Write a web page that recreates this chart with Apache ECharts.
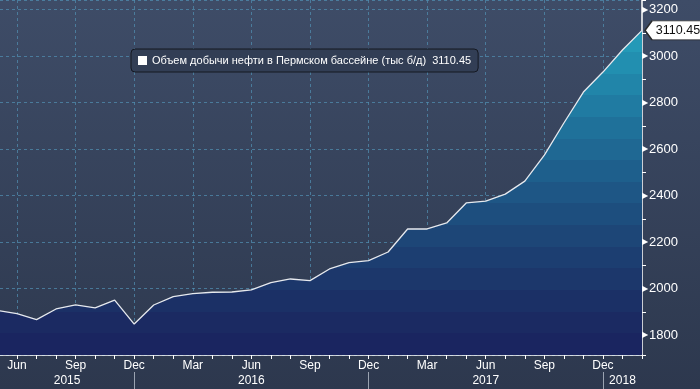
<!DOCTYPE html>
<html>
<head>
<meta charset="utf-8">
<script src="https://cdn.jsdelivr.net/npm/echarts@6/dist/echarts.min.js"></script>
<style>
html,body{margin:0;padding:0;background:#36435c;}
#chart{width:700px;height:389px;}
</style>
</head>
<body>
<div id="chart"></div>
<script>
// ---- data ----
var seriesName = 'Объем добычи нефти в Пермском бассейне (тыс б/д)';
var months = ['2015-05','2015-06','2015-07','2015-08','2015-09','2015-10','2015-11','2015-12',
  '2016-01','2016-02','2016-03','2016-04','2016-05','2016-06','2016-07','2016-08','2016-09','2016-10','2016-11','2016-12',
  '2017-01','2017-02','2017-03','2017-04','2017-05','2017-06','2017-07','2017-08','2017-09','2017-10','2017-11','2017-12',
  '2018-01','2018-02'];
var values = [1906,1892,1866,1912,1930,1917,1950,1847,
  1929,1965,1978,1984,1985,1994,2025,2041,2034,2084,2111,2120,
  2157,2256,2256,2282,2368,2376,2406,2462,2574,2712,2845,2931,
  3026,3110.45];
var monthNames = ['Jan','Feb','Mar','Apr','May','Jun','Jul','Aug','Sep','Oct','Nov','Dec'];
var quarterMonthLabels = ['Mar','Jun','Sep','Dec'];
var yearLabels = ['2015','2016','2017','2018'];
var yTickLabels = [1800,2000,2200,2400,2600,2800,3000,3200];

// ---- axis helpers ----
var baseYear = 2015, baseMonth = 2; // index 0 = Mar 2015
function monthIndex(s){ var p = s.split('-'); return (parseInt(p[0],10)-baseYear)*12 + (parseInt(p[1],10)-1) - baseMonth; }
function monthName(i){ return monthNames[((i + baseMonth) % 12 + 12) % 12]; }
var xMax = monthIndex(months[months.length-1]);
var xMin = 2.13; // visible start (a little after May 2015)
var seriesData = months.map(function(m,i){ return [monthIndex(m), values[i]]; });
var monthTicks = [], quarterTicks = [];
for (var i = Math.ceil(xMin); i <= xMax; i++){
  monthTicks.push(i);
  if (quarterMonthLabels.indexOf(monthName(i)) >= 0) quarterTicks.push(i);
}
// year separators at December of each year
var yearSeps = [monthIndex('2015-12'), monthIndex('2016-12'), monthIndex('2017-12')];
var bounds = [xMin].concat(yearSeps).concat([xMax]);
var yearCenters = yearLabels.map(function(y,i){ return (bounds[i]+bounds[i+1])/2; });

// stepped gradient for the area
var bandColors = ['#2499b7','#228fb0','#2185a9','#207ba2','#1f719a','#1f6893','#1e5f8c','#1e5685','#1d4e7e','#1d4677','#1c3e71','#1c376b','#1b3066','#1b2a62','#1a2560'];
var stops = [];
bandColors.forEach(function(c,k){
  stops.push({offset:k/bandColors.length, color:c});
  stops.push({offset:(k+1)/bandColors.length, color:c});
});

var font = 'Liberation Sans, Arial, sans-serif';
var gridColor = 'rgba(80,140,175,0.75)';
var chart = echarts.init(document.getElementById('chart'));
var lastVal = values[values.length-1];
chart.setOption({
  backgroundColor: new echarts.graphic.LinearGradient(0,0,0,1,[{offset:0,color:'#3e4c67'},{offset:1,color:'#2d384e'}]),
  animation:false,
  grid:{left:0, right:58, top:0, bottom:34},
  legend:{
    left:131, top:49, padding:[6,7,6,7],
    icon:'rect', itemWidth:9, itemHeight:9, itemGap:5,
    backgroundColor:'#323e55', borderColor:'#141821', borderWidth:1, borderRadius:4,
    itemStyle:{color:'#ffffff', borderWidth:0},
    textStyle:{color:'#ffffff', fontSize:11, fontFamily:font},
    formatter:function(n){ return n + '  ' + lastVal.toFixed(2); },
    data:[seriesName]
  },
  xAxis:[
    {type:'value', min:xMin, max:xMax, position:'bottom',
     axisLine:{show:true, lineStyle:{color:'#ffffff', width:1.5}},
     axisTick:{show:true, customValues:monthTicks, length:4, lineStyle:{color:'#ffffff', width:1}},
     axisLabel:{show:true, customValues:quarterTicks, color:'#ffffff', fontSize:12, fontFamily:font, margin:5,
       formatter:function(v){ return monthName(Math.round(v)); }},
     splitLine:{show:false}},
    {type:'value', min:xMin, max:xMax, position:'bottom',
     axisLine:{show:false}, axisTick:{show:false, customValues:quarterTicks}, axisLabel:{show:false, customValues:quarterTicks},
     splitLine:{show:true, lineStyle:{color:gridColor, type:[3,3], width:1}}},
    {type:'value', min:xMin, max:xMax, position:'bottom', offset:17,
     axisLine:{show:false},
     axisTick:{show:true, customValues:yearSeps, length:17, lineStyle:{color:'#9aa3b1', width:1}},
     axisLabel:{show:true, customValues:yearCenters, color:'#ffffff', fontSize:12, fontFamily:font, margin:3,
       formatter:function(v){ for (var i=0;i<yearCenters.length;i++){ if (Math.abs(yearCenters[i]-v)<1e-6) return yearLabels[i]; } return ''; }},
     splitLine:{show:false}}
  ],
  yAxis:{
    type:'value', position:'right', min:1714, max:3241, splitNumber:8,
    axisLine:{show:true, lineStyle:{color:'#ffffff', width:1.5}},
    axisTick:{show:true, length:4, lineStyle:{color:'#ffffff', width:1}},
    minorTick:{show:true, splitNumber:2, length:4, lineStyle:{color:'#ffffff', width:1}},
    minorSplitLine:{show:false},
    splitLine:{show:true, lineStyle:{color:gridColor, type:[3,3], width:1}},
    axisLabel:{margin:0, fontFamily:font,
      formatter:function(v){ return (yTickLabels.indexOf(v) >= 0) ? '{t|▶}{v|' + v + '}' : ''; },
      rich:{t:{color:'#ffffff', fontSize:8, padding:[0,1,0,0]}, v:{color:'#ffffff', fontSize:13, fontFamily:font}}}
  },
  series:[{
    name:seriesName, type:'line', data:seriesData, showSymbol:false, symbol:'none',
    xAxisIndex:0,
    color:'#ffffff',
    lineStyle:{color:'#e6e9ee', width:1.3},
    areaStyle:{origin:'start', opacity:1, color:new echarts.graphic.LinearGradient(0,0,0,1,stops)},
    markPoint:{
      symbol:'path://M0,9 L7,0 L60,0 L60,18 L7,18 Z',
      symbolSize:[60,19], symbolKeepAspect:false, symbolOffset:[33,0],
      itemStyle:{color:'#ffffff', borderColor:'#2a2a2a', borderWidth:1},
      label:{show:true, position:'inside', offset:[3,0], color:'#111111', fontSize:12.5, fontFamily:font,
        formatter:function(p){ return lastVal.toFixed(2); }},
      data:[{coord:seriesData[seriesData.length-1], value:lastVal}]
    }
  }]
});
</script>
</body>
</html>
